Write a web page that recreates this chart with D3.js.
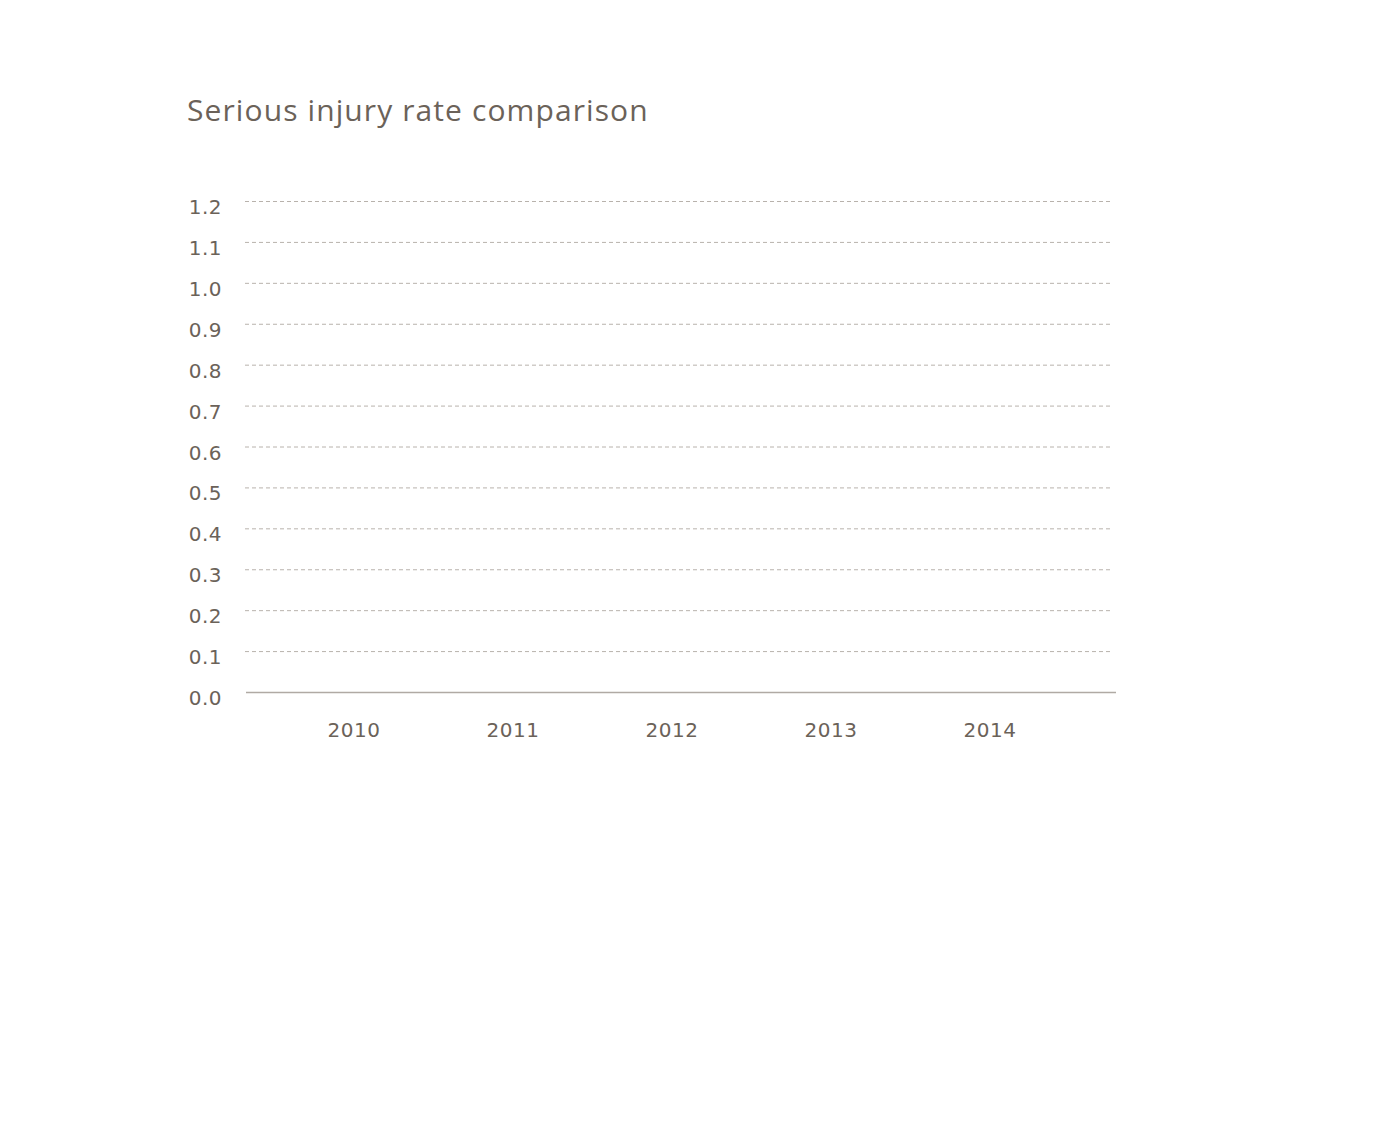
<!DOCTYPE html>
<html><head><meta charset="utf-8">
<script src="https://cdn.jsdelivr.net/npm/d3@7"></script>
<style>body{margin:0;background:#fff}</style>
</head><body>
<svg id="chart" width="1380" height="1123"></svg>
<script>
const years = ["2010", "2011", "2012", "2013", "2014"];
const yTicks = [0, 0.1, 0.2, 0.3, 0.4, 0.5, 0.6, 0.7, 0.8, 0.9, 1.0, 1.1, 1.2];
const injuryRate = []; // chart shows no bars

const svg = d3.select("#chart");
const textColor = "#6b6259";

svg.append("text")
    .attr("x", 187).attr("y", 121)
    .attr("font-family", "'Open Sans', sans-serif")
    .attr("font-size", 30)
    .attr("letter-spacing", 1.1)
    .attr("fill", textColor)
    .text("Serious injury rate comparison");

const x = d3.scalePoint().domain(years).range([354, 990]);
const y = d3.scaleLinear().domain([0, 1.2]).range([692, 201]);

// gridlines
svg.append("g").selectAll("line")
    .data(yTicks.filter(d => d > 0))
    .enter().append("line")
    .attr("x1", 245).attr("x2", 1110)
    .attr("y1", d => y(d) + 0.5).attr("y2", d => y(d) + 0.5)
    .attr("stroke", "#b8b2ac")
    .attr("stroke-dasharray", "4,3");

// y labels
svg.append("g").selectAll("text")
    .data(yTicks)
    .enter().append("text")
    .attr("x", 222).attr("y", d => y(d) + 13)
    .attr("text-anchor", "end")
    .attr("font-family", "'DejaVu Sans', Verdana, sans-serif")
    .attr("font-size", 20)
    .attr("letter-spacing", 0.5)
    .attr("fill", textColor)
    .text(d => d.toFixed(1));

// baseline
svg.append("line")
    .attr("x1", 246).attr("x2", 1116)
    .attr("y1", y(0) + 0.5).attr("y2", y(0) + 0.5)
    .attr("stroke", "#b0aaa4").attr("stroke-width", 1.5);

// x labels
svg.append("g").selectAll("text")
    .data(years)
    .enter().append("text")
    .attr("x", d => x(d)).attr("y", 737)
    .attr("text-anchor", "middle")
    .attr("font-family", "'DejaVu Sans', Verdana, sans-serif")
    .attr("font-size", 20)
    .attr("letter-spacing", 0.5)
    .attr("fill", textColor)
    .text(d => d);
</script>
</body></html>
